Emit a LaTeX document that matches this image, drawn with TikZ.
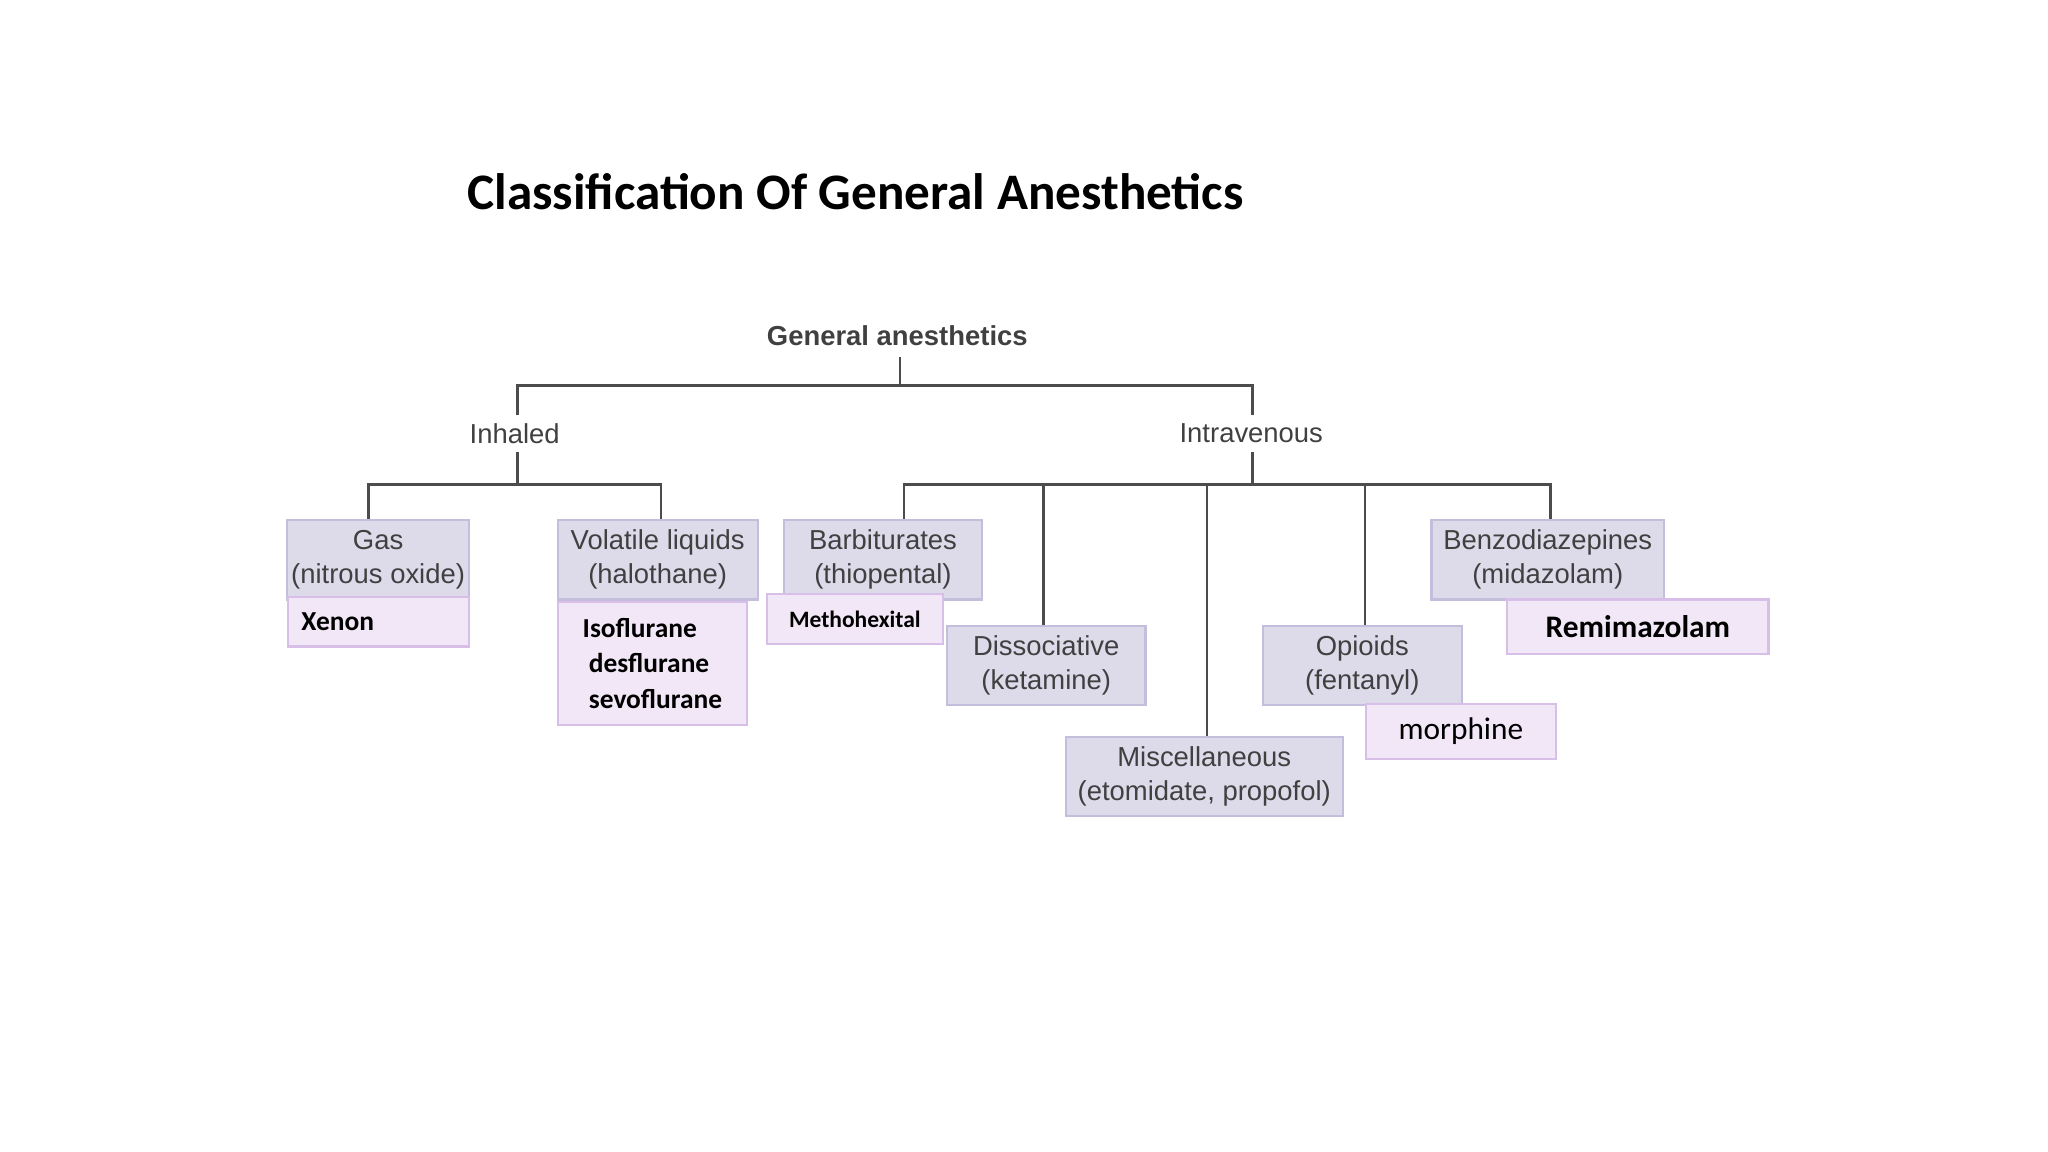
\documentclass[tikz,border=0pt]{standalone}
\usepackage{fontspec}
\setmainfont{Liberation Sans}
\newfontfamily\carl{Carlito}
\begin{document}
\begin{tikzpicture}[x=0.5pt,y=-0.5pt,
  sz/.style 2 args={minimum width=#1*0.5pt,minimum height=#2*0.5pt},
  box/.style={draw=boxB,fill=boxF,line width=0.8pt,align=center,text=black!75,font=\fontsize{10.5}{13}\selectfont,inner sep=0pt},
  add/.style={draw=addB,fill=addF,line width=0.8pt,inner sep=0pt,font=\carl\bfseries},
  lbl/.style={text=black!75,font=\fontsize{10.5}{13}\selectfont},
  ln/.style={draw=black!70,line width=1pt}]
\definecolor{boxF}{HTML}{DDDAEA}\definecolor{boxB}{HTML}{C4BEDC}
\definecolor{addF}{HTML}{F1E7F6}\definecolor{addB}{HTML}{D7BFE8}
\useasboundingbox[fill=white] (0,0) rectangle (1568,882);
\node[font=\carl\bfseries\fontsize{19.6}{24}\selectfont] (title) at (655,147) {Classification Of General Anesthetics};
\node[lbl,font=\bfseries\fontsize{10.5}{13}\selectfont] (ga) at (687,257) {General anesthetics};
\node[lbl] (inh) at (394,332) {Inhaled};
\node[lbl] (iv) at (958,332) {Intravenous};
\node[box,sz={139}{61}] (gas) at (289.5,428.5) {Gas\\(nitrous oxide)};
\node[box,sz={153}{61}] (vol) at (503.5,428.5) {Volatile liquids\\(halothane)};
\node[box,sz={152}{61}] (bar) at (676,428.5) {Barbiturates\\(thiopental)};
\node[box,sz={152}{61}] (dis) at (801,509.5) {Dissociative\\(ketamine)};
\node[box,sz={212}{61}] (mis) at (922,594.5) {Miscellaneous\\(etomidate, propofol)};
\node[box,sz={152}{61}] (opi) at (1043,509.5) {Opioids\\(fentanyl)};
\node[box,sz={178}{61}] (ben) at (1185,428.5) {Benzodiazepines\\(midazolam)};
\node[add,sz={136}{38},anchor=west,text width=59pt,inner xsep=5pt,font=\carl\bfseries\fontsize{10.5}{13}\selectfont] (xe) at (220,476) {Xenon};
\node[add,sz={145}{94},align=left,font=\carl\bfseries\fontsize{10.5}{13.5}\selectfont] (iso) at (499.5,508) {Isoflurane\\\ desflurane\\\ sevoflurane};
\node[add,sz={135}{38},font=\carl\bfseries\fontsize{9}{11}\selectfont] (met) at (654.5,474) {Methohexital};
\node[add,sz={200}{42},font=\carl\bfseries\fontsize{12}{14}\selectfont] (rem) at (1254,480) {Remimazolam};
\node[add,sz={145}{42},font=\carl\fontsize{12}{14}\selectfont] (mor) at (1118.5,560) {morphine};
\draw[ln] (689,273) -- (689,295);
\draw[ln] (396,318) |- (689,295) -| (959,318);
\draw[ln] (396,346) -- (396,371);
\draw[ln] (gas.north -| 282,0) |- (396,371) -| (vol.north -| 506,0);
\draw[ln] (959,346) -- (959,371);
\draw[ln] (bar.north -| 692,0) |- (1187,371) -- (ben.north -| 1187,0);
\draw[ln] (799,371) -- (dis.north -| 799,0);
\draw[ln] (924,371) -- (mis.north -| 924,0);
\draw[ln] (1045,371) -- (opi.north -| 1045,0);
\end{tikzpicture}
\end{document}
